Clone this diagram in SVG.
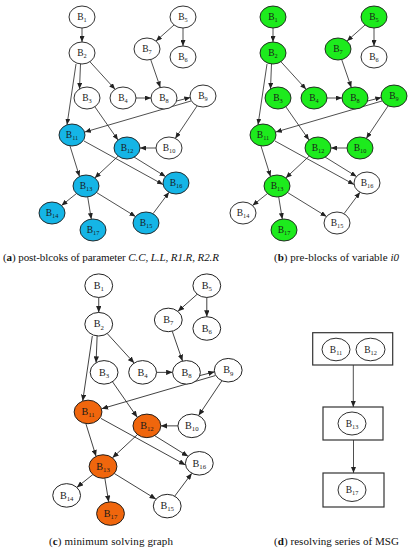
<svg xmlns="http://www.w3.org/2000/svg" width="411" height="550" viewBox="0 0 411 550">
<defs>
<marker id="ah" markerUnits="userSpaceOnUse" markerWidth="6" markerHeight="5" refX="6" refY="2.5" orient="auto">
<path d="M0,0 L6,2.5 L0,5 z" fill="#222"/>
</marker>
<style>
.n ellipse{stroke:#1a1a1a;stroke-width:0.9}
.w{fill:#fff}.cy{fill:#15B5E6}.gr{fill:#1DEB1D}.or{fill:#F0660D}
.lb{font-family:"Liberation Serif",serif;font-size:9.5px;text-anchor:middle;fill:#1a1a1a}
.sb{font-size:6.3px}
.e line{stroke:#222;stroke-width:0.8;marker-end:url(#ah)}
.cap{font-family:"Liberation Serif",serif;font-size:11px;fill:#111}
.box{fill:none;stroke:#333;stroke-width:1.2}
</style>
</defs>
<rect width="411" height="550" fill="#fff"/>

<!-- Panel (a) -->
<g id="panel-a">
<g id="a-edges" class="e">
<line x1="82" y1="28" x2="82" y2="42"/>
<line x1="174" y1="25" x2="156" y2="41"/>
<line x1="183" y1="28" x2="183" y2="46"/>
<line x1="80.5" y1="64" x2="79.5" y2="89"/>
<line x1="89.9" y1="61.7" x2="115.1" y2="89.3"/>
<line x1="76" y1="64" x2="67" y2="124.8"/>
<line x1="150.7" y1="59.6" x2="160.3" y2="87.4"/>
<line x1="136" y1="98" x2="151" y2="98"/>
<line x1="176.5" y1="101" x2="190.3" y2="97.5"/>
<line x1="191" y1="101" x2="84.8" y2="132"/>
<line x1="95" y1="107" x2="118" y2="140"/>
<line x1="197" y1="106" x2="175.3" y2="138.4"/>
<line x1="156" y1="148" x2="140" y2="148"/>
<line x1="70" y1="146" x2="79.5" y2="176.5"/>
<line x1="84" y1="141" x2="163" y2="184.5"/>
<line x1="118.2" y1="156.1" x2="94.8" y2="177.9"/>
<line x1="134" y1="157" x2="165.5" y2="176.5"/>
<line x1="76.5" y1="193.5" x2="61.5" y2="205.5"/>
<line x1="87.7" y1="196.9" x2="91.3" y2="219.1"/>
<line x1="96.5" y1="192.5" x2="135.5" y2="216.5"/>
<line x1="153" y1="213.7" x2="169" y2="192.3"/>
</g>
<g id="a-nodes">
<g id="a-B1" class="n"><ellipse class="w" cx="82" cy="17" rx="13" ry="11"/><text class="lb" x="82" y="20">B<tspan class="sb" dy="2">1</tspan></text></g>
<g id="a-B2" class="n"><ellipse class="w" cx="82" cy="53" rx="13" ry="11"/><text class="lb" x="82" y="56">B<tspan class="sb" dy="2">2</tspan></text></g>
<g id="a-B5" class="n"><ellipse class="w" cx="183" cy="17" rx="13" ry="11"/><text class="lb" x="183" y="20">B<tspan class="sb" dy="2">5</tspan></text></g>
<g id="a-B7" class="n"><ellipse class="w" cx="147" cy="49" rx="13" ry="11"/><text class="lb" x="147" y="52">B<tspan class="sb" dy="2">7</tspan></text></g>
<g id="a-B6" class="n"><ellipse class="w" cx="183" cy="57" rx="13" ry="11"/><text class="lb" x="183" y="60">B<tspan class="sb" dy="2">6</tspan></text></g>
<g id="a-B3" class="n"><ellipse class="w" cx="87" cy="98" rx="13" ry="11"/><text class="lb" x="87" y="101">B<tspan class="sb" dy="2">3</tspan></text></g>
<g id="a-B4" class="n"><ellipse class="w" cx="123" cy="98" rx="13" ry="11"/><text class="lb" x="123" y="101">B<tspan class="sb" dy="2">4</tspan></text></g>
<g id="a-B8" class="n"><ellipse class="w" cx="164" cy="98" rx="13" ry="11"/><text class="lb" x="164" y="101">B<tspan class="sb" dy="2">8</tspan></text></g>
<g id="a-B9" class="n"><ellipse class="w" cx="203" cy="96" rx="13" ry="11"/><text class="lb" x="203" y="99">B<tspan class="sb" dy="2">9</tspan></text></g>
<g id="a-B11" class="n"><ellipse class="cy" cx="72" cy="135" rx="13" ry="11"/><text class="lb" x="72" y="138">B<tspan class="sb" dy="2">11</tspan></text></g>
<g id="a-B12" class="n"><ellipse class="cy" cx="127" cy="148" rx="13" ry="11"/><text class="lb" x="127" y="151">B<tspan class="sb" dy="2">12</tspan></text></g>
<g id="a-B10" class="n"><ellipse class="w" cx="169" cy="148" rx="13" ry="11"/><text class="lb" x="169" y="151">B<tspan class="sb" dy="2">10</tspan></text></g>
<g id="a-B16" class="n"><ellipse class="cy" cx="176" cy="183" rx="13" ry="11"/><text class="lb" x="176" y="186">B<tspan class="sb" dy="2">16</tspan></text></g>
<g id="a-B13" class="n"><ellipse class="cy" cx="86" cy="186" rx="13" ry="11"/><text class="lb" x="86" y="189">B<tspan class="sb" dy="2">13</tspan></text></g>
<g id="a-B14" class="n"><ellipse class="cy" cx="52" cy="213" rx="13" ry="11"/><text class="lb" x="52" y="216">B<tspan class="sb" dy="2">14</tspan></text></g>
<g id="a-B17" class="n"><ellipse class="cy" cx="93" cy="230" rx="13" ry="11"/><text class="lb" x="93" y="233">B<tspan class="sb" dy="2">17</tspan></text></g>
<g id="a-B15" class="n"><ellipse class="cy" cx="146" cy="223" rx="13" ry="11"/><text class="lb" x="146" y="226">B<tspan class="sb" dy="2">15</tspan></text></g>
</g>
<text class="cap" x="3" y="261" textLength="216" lengthAdjust="spacing">(<tspan font-weight="bold">a</tspan>) post-blcoks of parameter <tspan font-style="italic">C.C, L.L, R1.R, R2.R</tspan></text>
</g>

<!-- Panel (b) -->
<g id="panel-b">
<g transform="translate(191,0)">
<g id="b-edges" class="e">
<line x1="82" y1="28" x2="82" y2="42"/>
<line x1="174" y1="25" x2="156" y2="41"/>
<line x1="183" y1="28" x2="183" y2="46"/>
<line x1="80.5" y1="64" x2="79.5" y2="89"/>
<line x1="89.9" y1="61.7" x2="115.1" y2="89.3"/>
<line x1="76" y1="64" x2="67" y2="124.8"/>
<line x1="150.7" y1="59.6" x2="160.3" y2="87.4"/>
<line x1="136" y1="98" x2="151" y2="98"/>
<line x1="176.5" y1="101" x2="190.3" y2="97.5"/>
<line x1="191" y1="101" x2="84.8" y2="132"/>
<line x1="95" y1="107" x2="118" y2="140"/>
<line x1="197" y1="106" x2="175.3" y2="138.4"/>
<line x1="156" y1="148" x2="140" y2="148"/>
<line x1="70" y1="146" x2="79.5" y2="176.5"/>
<line x1="84" y1="141" x2="163" y2="184.5"/>
<line x1="118.2" y1="156.1" x2="94.8" y2="177.9"/>
<line x1="134" y1="157" x2="165.5" y2="176.5"/>
<line x1="76.5" y1="193.5" x2="61.5" y2="205.5"/>
<line x1="87.7" y1="196.9" x2="91.3" y2="219.1"/>
<line x1="96.5" y1="192.5" x2="135.5" y2="216.5"/>
<line x1="153" y1="213.7" x2="169" y2="192.3"/>
</g>
<g id="b-nodes">
<g id="b-B1" class="n"><ellipse class="gr" cx="82" cy="17" rx="13" ry="11"/><text class="lb" x="82" y="20">B<tspan class="sb" dy="2">1</tspan></text></g>
<g id="b-B2" class="n"><ellipse class="gr" cx="82" cy="53" rx="13" ry="11"/><text class="lb" x="82" y="56">B<tspan class="sb" dy="2">2</tspan></text></g>
<g id="b-B5" class="n"><ellipse class="gr" cx="183" cy="17" rx="13" ry="11"/><text class="lb" x="183" y="20">B<tspan class="sb" dy="2">5</tspan></text></g>
<g id="b-B7" class="n"><ellipse class="gr" cx="147" cy="49" rx="13" ry="11"/><text class="lb" x="147" y="52">B<tspan class="sb" dy="2">7</tspan></text></g>
<g id="b-B6" class="n"><ellipse class="w" cx="183" cy="57" rx="13" ry="11"/><text class="lb" x="183" y="60">B<tspan class="sb" dy="2">6</tspan></text></g>
<g id="b-B3" class="n"><ellipse class="gr" cx="87" cy="98" rx="13" ry="11"/><text class="lb" x="87" y="101">B<tspan class="sb" dy="2">3</tspan></text></g>
<g id="b-B4" class="n"><ellipse class="gr" cx="123" cy="98" rx="13" ry="11"/><text class="lb" x="123" y="101">B<tspan class="sb" dy="2">4</tspan></text></g>
<g id="b-B8" class="n"><ellipse class="gr" cx="164" cy="98" rx="13" ry="11"/><text class="lb" x="164" y="101">B<tspan class="sb" dy="2">8</tspan></text></g>
<g id="b-B9" class="n"><ellipse class="gr" cx="203" cy="96" rx="13" ry="11"/><text class="lb" x="203" y="99">B<tspan class="sb" dy="2">9</tspan></text></g>
<g id="b-B11" class="n"><ellipse class="gr" cx="72" cy="135" rx="13" ry="11"/><text class="lb" x="72" y="138">B<tspan class="sb" dy="2">11</tspan></text></g>
<g id="b-B12" class="n"><ellipse class="gr" cx="127" cy="148" rx="13" ry="11"/><text class="lb" x="127" y="151">B<tspan class="sb" dy="2">12</tspan></text></g>
<g id="b-B10" class="n"><ellipse class="gr" cx="169" cy="148" rx="13" ry="11"/><text class="lb" x="169" y="151">B<tspan class="sb" dy="2">10</tspan></text></g>
<g id="b-B16" class="n"><ellipse class="w" cx="176" cy="183" rx="13" ry="11"/><text class="lb" x="176" y="186">B<tspan class="sb" dy="2">16</tspan></text></g>
<g id="b-B13" class="n"><ellipse class="gr" cx="86" cy="186" rx="13" ry="11"/><text class="lb" x="86" y="189">B<tspan class="sb" dy="2">13</tspan></text></g>
<g id="b-B14" class="n"><ellipse class="w" cx="52" cy="213" rx="13" ry="11"/><text class="lb" x="52" y="216">B<tspan class="sb" dy="2">14</tspan></text></g>
<g id="b-B17" class="n"><ellipse class="gr" cx="93" cy="230" rx="13" ry="11"/><text class="lb" x="93" y="233">B<tspan class="sb" dy="2">17</tspan></text></g>
<g id="b-B15" class="n"><ellipse class="w" cx="146" cy="223" rx="13" ry="11"/><text class="lb" x="146" y="226">B<tspan class="sb" dy="2">15</tspan></text></g>
</g>
</g>
<text class="cap" x="274" y="261" textLength="125" lengthAdjust="spacing">(<tspan font-weight="bold">b</tspan>) pre-blocks of variable <tspan font-style="italic">i0</tspan></text>
</g>

<!-- Panel (c) -->
<g id="panel-c">
<g transform="translate(11,267.5) scale(1.07)">
<g id="c-edges" class="e">
<line x1="82" y1="28" x2="82" y2="42"/>
<line x1="174" y1="25" x2="156" y2="41"/>
<line x1="183" y1="28" x2="183" y2="46"/>
<line x1="80.5" y1="64" x2="79.5" y2="89"/>
<line x1="89.9" y1="61.7" x2="115.1" y2="89.3"/>
<line x1="76" y1="64" x2="67" y2="124.8"/>
<line x1="150.7" y1="59.6" x2="160.3" y2="87.4"/>
<line x1="136" y1="98" x2="151" y2="98"/>
<line x1="176.5" y1="101" x2="190.3" y2="97.5"/>
<line x1="191" y1="101" x2="84.8" y2="132"/>
<line x1="95" y1="107" x2="118" y2="140"/>
<line x1="197" y1="106" x2="175.3" y2="138.4"/>
<line x1="156" y1="148" x2="140" y2="148"/>
<line x1="70" y1="146" x2="79.5" y2="176.5"/>
<line x1="84" y1="141" x2="163" y2="184.5"/>
<line x1="118.2" y1="156.1" x2="94.8" y2="177.9"/>
<line x1="134" y1="157" x2="165.5" y2="176.5"/>
<line x1="76.5" y1="193.5" x2="61.5" y2="205.5"/>
<line x1="87.7" y1="196.9" x2="91.3" y2="219.1"/>
<line x1="96.5" y1="192.5" x2="135.5" y2="216.5"/>
<line x1="153" y1="213.7" x2="169" y2="192.3"/>
</g>
<g id="c-nodes">
<g id="c-B1" class="n"><ellipse class="w" cx="82" cy="17" rx="13" ry="11"/><text class="lb" x="82" y="20">B<tspan class="sb" dy="2">1</tspan></text></g>
<g id="c-B2" class="n"><ellipse class="w" cx="82" cy="53" rx="13" ry="11"/><text class="lb" x="82" y="56">B<tspan class="sb" dy="2">2</tspan></text></g>
<g id="c-B5" class="n"><ellipse class="w" cx="183" cy="17" rx="13" ry="11"/><text class="lb" x="183" y="20">B<tspan class="sb" dy="2">5</tspan></text></g>
<g id="c-B7" class="n"><ellipse class="w" cx="147" cy="49" rx="13" ry="11"/><text class="lb" x="147" y="52">B<tspan class="sb" dy="2">7</tspan></text></g>
<g id="c-B6" class="n"><ellipse class="w" cx="183" cy="57" rx="13" ry="11"/><text class="lb" x="183" y="60">B<tspan class="sb" dy="2">6</tspan></text></g>
<g id="c-B3" class="n"><ellipse class="w" cx="87" cy="98" rx="13" ry="11"/><text class="lb" x="87" y="101">B<tspan class="sb" dy="2">3</tspan></text></g>
<g id="c-B4" class="n"><ellipse class="w" cx="123" cy="98" rx="13" ry="11"/><text class="lb" x="123" y="101">B<tspan class="sb" dy="2">4</tspan></text></g>
<g id="c-B8" class="n"><ellipse class="w" cx="164" cy="98" rx="13" ry="11"/><text class="lb" x="164" y="101">B<tspan class="sb" dy="2">8</tspan></text></g>
<g id="c-B9" class="n"><ellipse class="w" cx="203" cy="96" rx="13" ry="11"/><text class="lb" x="203" y="99">B<tspan class="sb" dy="2">9</tspan></text></g>
<g id="c-B11" class="n"><ellipse class="or" cx="72" cy="135" rx="13" ry="11"/><text class="lb" x="72" y="138">B<tspan class="sb" dy="2">11</tspan></text></g>
<g id="c-B12" class="n"><ellipse class="or" cx="127" cy="148" rx="13" ry="11"/><text class="lb" x="127" y="151">B<tspan class="sb" dy="2">12</tspan></text></g>
<g id="c-B10" class="n"><ellipse class="w" cx="169" cy="148" rx="13" ry="11"/><text class="lb" x="169" y="151">B<tspan class="sb" dy="2">10</tspan></text></g>
<g id="c-B16" class="n"><ellipse class="w" cx="176" cy="183" rx="13" ry="11"/><text class="lb" x="176" y="186">B<tspan class="sb" dy="2">16</tspan></text></g>
<g id="c-B13" class="n"><ellipse class="or" cx="86" cy="186" rx="13" ry="11"/><text class="lb" x="86" y="189">B<tspan class="sb" dy="2">13</tspan></text></g>
<g id="c-B14" class="n"><ellipse class="w" cx="52" cy="213" rx="13" ry="11"/><text class="lb" x="52" y="216">B<tspan class="sb" dy="2">14</tspan></text></g>
<g id="c-B17" class="n"><ellipse class="or" cx="93" cy="230" rx="13" ry="11"/><text class="lb" x="93" y="233">B<tspan class="sb" dy="2">17</tspan></text></g>
<g id="c-B15" class="n"><ellipse class="w" cx="146" cy="223" rx="13" ry="11"/><text class="lb" x="146" y="226">B<tspan class="sb" dy="2">15</tspan></text></g>
</g>
</g>
<text class="cap" x="49" y="545" textLength="124" lengthAdjust="spacing">(<tspan font-weight="bold">c</tspan>) minimum solving graph</text>
</g>

<!-- Panel (d) -->
<g id="panel-d">
<g id="d-edges" class="e">
<line x1="353.3" y1="365" x2="353.3" y2="407"/>
<line x1="353.5" y1="440" x2="353.5" y2="473"/>
</g>
<g id="d-group1"><rect class="box" x="312.7" y="332.7" width="80" height="32.3"/></g>
<g id="d-group2"><rect class="box" x="323" y="407" width="60" height="33"/></g>
<g id="d-group3"><rect class="box" x="323" y="473" width="61" height="34"/></g>
<g id="d-B11" class="n"><ellipse class="w" cx="336" cy="349.5" rx="14" ry="11.3"/><text class="lb" x="336" y="352.5">B<tspan class="sb" dy="2">11</tspan></text></g>
<g id="d-B12" class="n"><ellipse class="w" cx="370.5" cy="349.5" rx="14.5" ry="11.3"/><text class="lb" x="370.5" y="352.5">B<tspan class="sb" dy="2">12</tspan></text></g>
<g id="d-B13" class="n"><ellipse class="w" cx="352" cy="423.5" rx="14" ry="11.5"/><text class="lb" x="352" y="426.5">B<tspan class="sb" dy="2">13</tspan></text></g>
<g id="d-B17" class="n"><ellipse class="w" cx="352" cy="490" rx="14" ry="11.5"/><text class="lb" x="352" y="493">B<tspan class="sb" dy="2">17</tspan></text></g>
<text class="cap" x="274" y="545" textLength="125" lengthAdjust="spacing">(<tspan font-weight="bold">d</tspan>) resolving series of MSG</text>
</g>
</svg>
